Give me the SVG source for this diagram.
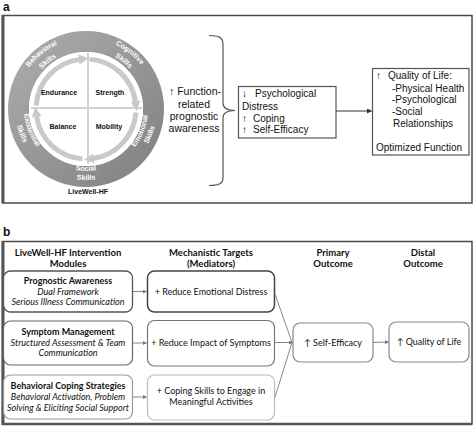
<svg xmlns="http://www.w3.org/2000/svg" width="474" height="427" viewBox="0 0 474 427">
<style>
.pa{font-family:"Liberation Sans",Arial,sans-serif;fill:#111}
.pb{font-family:Lato,"Liberation Sans",sans-serif;fill:#111}
.ringt{font-family:"Liberation Sans",Arial,sans-serif;font-weight:bold;font-size:7.2px;fill:#fff}
.quad{font-family:"Liberation Sans",Arial,sans-serif;font-weight:bold;font-size:7px;fill:#111}
.frame{fill:none;stroke:#4a4a4a;stroke-width:1.5}
.boxa{fill:#fff;stroke:#555;stroke-width:1.2}
.lbl{font-family:"Liberation Sans",Arial,sans-serif;font-weight:bold;font-size:12px;fill:#111}
.hdr{font-weight:bold;font-size:9.5px}
.bt{font-weight:bold;font-size:9px}
.it{font-style:italic;font-size:9px}
.mt{font-size:9px}
.conn{stroke:#888;stroke-width:1;fill:none}
.carc{fill:none;stroke:#c9c9c9;stroke-width:5}
</style>
<defs>
<linearGradient id="ringGrad" x1="0" y1="0" x2="1" y2="1">
<stop offset="0" stop-color="#ababab"/>
<stop offset="1" stop-color="#828282"/>
</linearGradient>
<marker id="ah" viewBox="0 0 10 10" refX="9" refY="5" markerWidth="5" markerHeight="5" orient="auto"><path d="M0,0 L10,5 L0,10 z" fill="#333"/></marker>
<marker id="ahg" viewBox="0 0 10 10" refX="9" refY="5" markerWidth="4" markerHeight="4" orient="auto"><path d="M0,0 L10,5 L0,10 z" fill="#777"/></marker>
<marker id="cah" viewBox="0 0 10 10" refX="1" refY="5" markerUnits="userSpaceOnUse" markerWidth="10" markerHeight="11" orient="auto"><path d="M0,0 L10,5 L0,10 z" fill="#c9c9c9"/></marker>
<path id="pBeh1" d="M15.51,107.77 A70.5,70.5 0 0 1 99.45,39.80"/>
<path id="pBeh2" d="M26.51,107.96 A59.5,59.5 0 0 1 97.35,50.59"/>
<path id="pCog1" d="M71.34,40.04 A70.5,70.5 0 0 1 156.46,106.54"/>
<path id="pCog2" d="M73.63,50.80 A59.5,59.5 0 0 1 145.46,106.92"/>
<path id="pEmo1" d="M105.16,167.97 A62,62 0 0 0 140.74,79.89"/>
<path id="pEmo2" d="M107.94,176.53 A71,71 0 0 0 148.69,75.67"/>
<path id="pSoc1" d="M38.51,148.85 A62,62 0 0 0 133.49,148.85"/>
<path id="pSoc2" d="M31.61,154.64 A71,71 0 0 0 140.39,154.64"/>
<path id="pExi1" d="M31.77,78.94 A62,62 0 0 0 65.81,167.62"/>
<path id="pExi2" d="M23.90,74.58 A71,71 0 0 0 62.88,176.13"/>
</defs>
<rect width="474" height="427" fill="#fff"/>

<!-- Panel a -->
<g id="panel-a">
<text class="lbl" x="3" y="11">a</text>
<rect class="frame" x="2.5" y="15.5" width="469.5" height="187.5"/>
<line x1="3" y1="15" x2="3" y2="203" stroke="#555" stroke-width="3"/>
</g>

<g id="livewell-circle">
<circle cx="86" cy="109" r="67.5" fill="none" stroke="url(#ringGrad)" stroke-width="21"/>
<circle cx="86" cy="109" r="57" fill="#fff"/>
<line x1="88" y1="53" x2="88" y2="164" stroke="#d2d2d2" stroke-width="2"/>
<line x1="31" y1="108" x2="142" y2="108" stroke="#d2d2d2" stroke-width="2"/>
<path class="carc" d="M36.12,105.51 A50,50 0 0 1 79.91,59.37" marker-end="url(#cah)"/>
<path class="carc" d="M89.49,59.12 A50,50 0 0 1 135.51,102.04" marker-end="url(#cah)"/>
<path class="carc" d="M135.88,112.49 A50,50 0 0 1 92.96,158.51" marker-end="url(#cah)"/>
<path class="carc" d="M82.51,158.88 A50,50 0 0 1 36.49,115.96" marker-end="url(#cah)"/>
<text class="quad" x="59" y="94.5" text-anchor="middle">Endurance</text>
<text class="quad" x="110" y="94.5" text-anchor="middle">Strength</text>
<text class="quad" x="63" y="128.5" text-anchor="middle">Balance</text>
<text class="quad" x="109" y="128.5" text-anchor="middle">Mobility</text>
<text class="ringt" text-anchor="middle"><textPath href="#pBeh1" startOffset="50%">Behavioral</textPath><textPath href="#pBeh2" startOffset="50%">Skills</textPath></text>
<text class="ringt" text-anchor="middle"><textPath href="#pCog1" startOffset="50%">Cognitive</textPath><textPath href="#pCog2" startOffset="50%">Skills</textPath></text>
<text class="ringt" text-anchor="middle"><textPath href="#pEmo1" startOffset="50%">Emotional</textPath><textPath href="#pEmo2" startOffset="50%">Skills</textPath></text>
<text class="ringt" text-anchor="middle"><textPath href="#pSoc1" startOffset="50%">Social</textPath><textPath href="#pSoc2" startOffset="50%">Skills</textPath></text>
<text class="ringt" text-anchor="middle"><textPath href="#pExi1" startOffset="50%">Existential</textPath><textPath href="#pExi2" startOffset="50%">Skills</textPath></text>
<text class="quad" x="88" y="194" text-anchor="middle" font-size="7.5">LiveWell-HF</text>
</g>

<g id="awareness">
<text class="pa" font-size="10.5" text-anchor="middle"><tspan x="195" y="95">↑ Function-</tspan><tspan x="194" y="107.5">related</tspan><tspan x="194" y="119.5">prognostic</tspan><tspan x="194" y="131.5">awareness</tspan></text>
<path d="M209,35.5 C218,35.5 223,37 223,44 L223,103 C223,108 226,110.5 235,110.5 C226,110.5 223,113 223,118 L223,178 C223,184 218,185.5 209,185.5" fill="none" stroke="#555" stroke-width="1.2"/>
</g>

<g id="mediators-a">
<rect class="boxa" x="238.5" y="86.5" width="97.5" height="51.5"/>
<text class="pa" font-size="10"><tspan x="242" y="97">↓</tspan><tspan x="255" y="97">Psychological</tspan><tspan x="242" y="109.5">Distress</tspan><tspan x="242" y="121.5">↑</tspan><tspan x="253" y="121.5">Coping</tspan><tspan x="242" y="133">↑</tspan><tspan x="253" y="133">Self-Efficacy</tspan></text>
</g>

<g id="outcomes-a">
<rect class="boxa" x="372.5" y="68.5" width="96.5" height="86.5"/>
<text class="pa" font-size="10"><tspan x="376" y="79">↑</tspan><tspan x="388" y="79">Quality of Life:</tspan><tspan x="392" y="91.5">-Physical Health</tspan><tspan x="392" y="103">-Psychological</tspan><tspan x="392" y="115">-Social</tspan><tspan x="393" y="127">Relationships</tspan><tspan x="376" y="150.5">Optimized Function</tspan></text>
</g>

<!-- Panel b -->
<g id="panel-b">
<text class="lbl" x="3" y="236">b</text>
<rect class="frame" x="2.5" y="241.5" width="469.5" height="182.5"/>
<line x1="3" y1="241" x2="3" y2="425" stroke="#555" stroke-width="3"/>
<line x1="2" y1="424" x2="472" y2="424" stroke="#555" stroke-width="2.5"/>
<g class="pb hdr" text-anchor="middle">
<text x="68" y="256">LiveWell-HF Intervention</text>
<text x="68" y="267">Modules</text>
<text x="211" y="256">Mechanistic Targets</text>
<text x="211" y="267">(Mediators)</text>
<text x="333" y="256">Primary</text>
<text x="333" y="267">Outcome</text>
<text x="423" y="256">Distal</text>
<text x="423" y="267">Outcome</text>
</g>
</g>

<g id="mod-prognostic">
<rect x="3.5" y="271" width="129" height="41" rx="7" fill="#fff" stroke="#555" stroke-width="1.3"/>
<text class="pb" text-anchor="middle"><tspan class="bt" x="68" y="284">Prognostic Awareness</tspan><tspan class="it" x="68" y="294.5">Dual Framework</tspan><tspan class="it" x="68" y="305">Serious Illness Communication</tspan></text>
</g>
<g id="mod-symptom">
<rect x="3.5" y="321" width="129" height="44" rx="7" fill="#fff" stroke="#666" stroke-width="1.2"/>
<text class="pb" text-anchor="middle"><tspan class="bt" x="68" y="335">Symptom Management</tspan><tspan class="it" x="68" y="345.5">Structured Assessment &amp; Team</tspan><tspan class="it" x="68" y="356">Communication</tspan></text>
</g>
<g id="mod-coping">
<rect x="3.5" y="375" width="129" height="44" rx="7" fill="#fff" stroke="#999" stroke-width="1.2"/>
<text class="pb" text-anchor="middle"><tspan class="bt" x="68" y="389">Behavioral Coping Strategies</tspan><tspan class="it" x="68" y="400">Behavioral Activation, Problem</tspan><tspan class="it" x="68" y="411">Solving &amp; Eliciting Social Support</tspan></text>
</g>

<g id="med-emotional">
<rect x="147.5" y="271" width="127" height="41" rx="7" fill="#fff" stroke="#444" stroke-width="1.5"/>
<text class="pb mt" x="211" y="295" text-anchor="middle">+ Reduce Emotional Distress</text>
</g>
<g id="med-symptoms">
<rect x="147.5" y="320.5" width="127" height="45.5" rx="7" fill="#fff" stroke="#777" stroke-width="1.2"/>
<text class="pb mt" x="211" y="346" text-anchor="middle">+ Reduce Impact of Symptoms</text>
</g>
<g id="med-coping">
<rect x="147.5" y="375" width="127" height="45" rx="7" fill="#fff" stroke="#bbb" stroke-width="1.2"/>
<text class="pb mt" text-anchor="middle"><tspan x="211" y="394">+ Coping Skills to Engage in</tspan><tspan x="211" y="405">Meaningful Activities</tspan></text>
</g>

<g id="primary-outcome">
<rect x="293" y="323" width="80" height="39" rx="7" fill="#fff" stroke="#888" stroke-width="1.2"/>
<text class="pb mt" x="333" y="346" text-anchor="middle">↑  Self-Efficacy</text>
</g>
<g id="distal-outcome">
<rect x="389" y="322" width="80" height="40" rx="7" fill="#fff" stroke="#888" stroke-width="1.2"/>
<text class="pb mt" x="429" y="345" text-anchor="middle">↑  Quality of Life</text>
</g>

<g id="connectors">
<line x1="336" y1="111" x2="371.5" y2="111" stroke="#333" stroke-width="1" marker-end="url(#ah)"/>
<line class="conn" x1="133" y1="291.5" x2="146.5" y2="291.5" marker-end="url(#ahg)"/>
<line class="conn" x1="133" y1="343" x2="146.5" y2="343" marker-end="url(#ahg)"/>
<line class="conn" x1="133" y1="397" x2="146.5" y2="397" marker-end="url(#ahg)"/>
<line class="conn" x1="275" y1="294" x2="292" y2="342.5"/>
<line class="conn" x1="275" y1="342.5" x2="292.5" y2="342.5" marker-end="url(#ahg)"/>
<line class="conn" x1="275" y1="397" x2="292" y2="342.5"/>
<line class="conn" x1="373" y1="342.5" x2="388.5" y2="342" marker-end="url(#ahg)"/>
</g>
</svg>
